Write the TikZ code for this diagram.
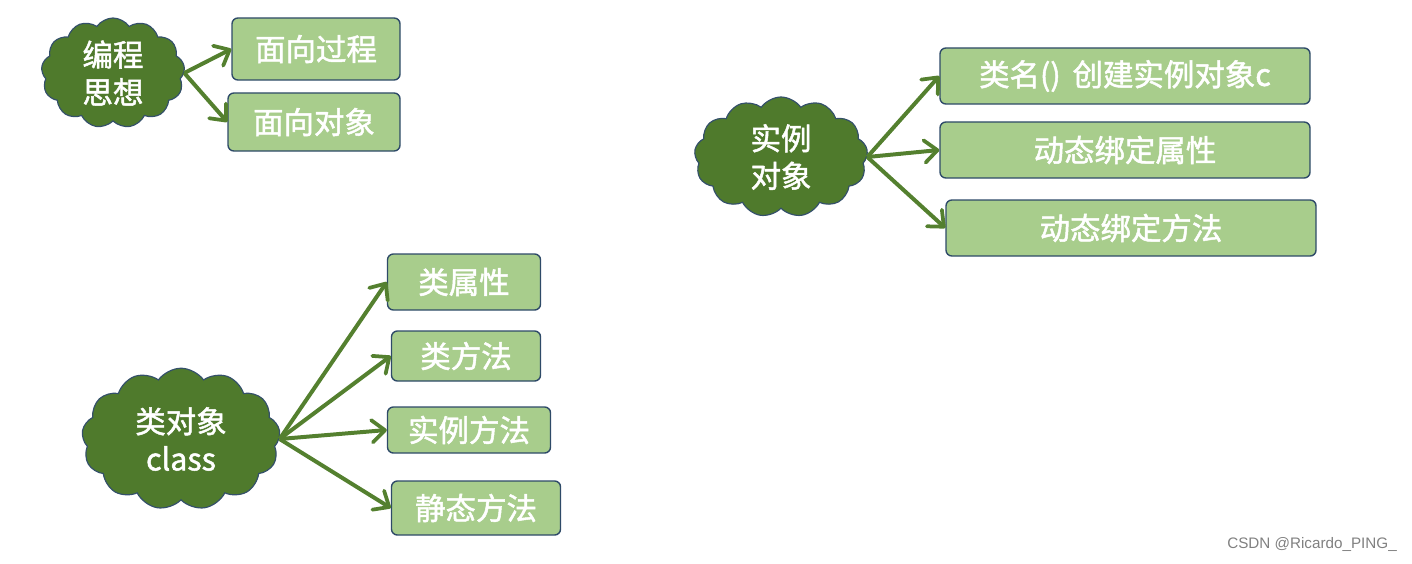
\documentclass[tikz,border=0pt]{standalone}
\usepackage{fontspec}
\setmainfont[AutoFakeBold=1.6]{Noto Sans CJK SC}
\newfontfamily\markfont{Liberation Sans}
\usetikzlibrary{shapes.symbols,arrows.meta}
\definecolor{clouddark}{HTML}{4F7A2C}
\definecolor{cloudline}{HTML}{34506A}
\definecolor{boxgreen}{HTML}{A8CD8C}
\definecolor{boxline}{HTML}{2E4A68}
\definecolor{arrowgreen}{HTML}{54802F}
\begin{document}
\begin{tikzpicture}[x=0.03cm,y=-0.03cm,
			idea/.style={cloud,cloud puffs=13,cloud puff arc=110,draw=cloudline,fill=clouddark,
				line width=1pt,text=white,align=center,inner sep=0,font=\fontsize{26}{32}\selectfont\bfseries},
			item/.style={rectangle,rounded corners=5pt,draw=boxline,fill=boxgreen,line width=1.2pt,
				text=white,inner sep=0,font=\fontsize{26}{32}\selectfont\bfseries},
			link/.style={-{Straight Barb[length=11pt,width=19pt,line width=3.2pt,round]},draw=arrowgreen,line width=3.4pt}]
			\useasboundingbox (0,0) rectangle (1412,563);
			% programming ideas
			\node[idea,minimum width=4.3cm,minimum height=3.3cm] (think) at (113,73) {编程\\思想};
			\node[item,minimum width=5.04cm,minimum height=1.86cm] (proc) at (316,49) {面向过程};
			\node[item,minimum width=5.16cm,minimum height=1.74cm] (oop) at (314,122) {面向对象};
			\draw[link] (think.east) -- (proc.west);
			\draw[link] (think.east) -- (oop.west);
			% instance object
			\node[idea,minimum width=5.2cm,minimum height=3.6cm] (inst) at (781,157) {实例\\对象};
			\node[item,minimum width=11.1cm,minimum height=1.68cm] (make) at (1125,76) {类名()\, 创建实例对象c};
			\node[item,minimum width=11.1cm,minimum height=1.68cm] (iattr) at (1125,150) {动态绑定属性};
			\node[item,minimum width=11.1cm,minimum height=1.68cm] (imeth) at (1131,228) {动态绑定方法};
			\draw[link] (inst.east) -- (make.west);
			\draw[link] (inst.east) -- (iattr.west);
			\draw[link] (inst.east) -- (imeth.west);
			% class object
			\node[idea,minimum width=5.95cm,minimum height=3.45cm] (cls) at (181,439) {类对象\\class};
			\node[item,minimum width=4.59cm,minimum height=1.68cm] (cattr) at (464,282) {类属性};
			\node[item,minimum width=4.47cm,minimum height=1.5cm] (cmeth) at (466,356) {类方法};
			\node[item,minimum width=4.89cm,minimum height=1.38cm] (ometh) at (469,430) {实例方法};
			\node[item,minimum width=5.07cm,minimum height=1.62cm] (smeth) at (476,508) {静态方法};
			\draw[link] (cls.east) -- (cattr.west);
			\draw[link] (cls.east) -- (cmeth.west);
			\draw[link] (cls.east) -- (ometh.west);
			\draw[link] (cls.east) -- (smeth.west);
			\node[text=gray,font=\markfont\fontsize{13}{15}\selectfont,anchor=east,inner sep=0] (mark) at (1397,544) {CSDN @Ricardo\_PING\_};
		\end{tikzpicture}
\end{document}
